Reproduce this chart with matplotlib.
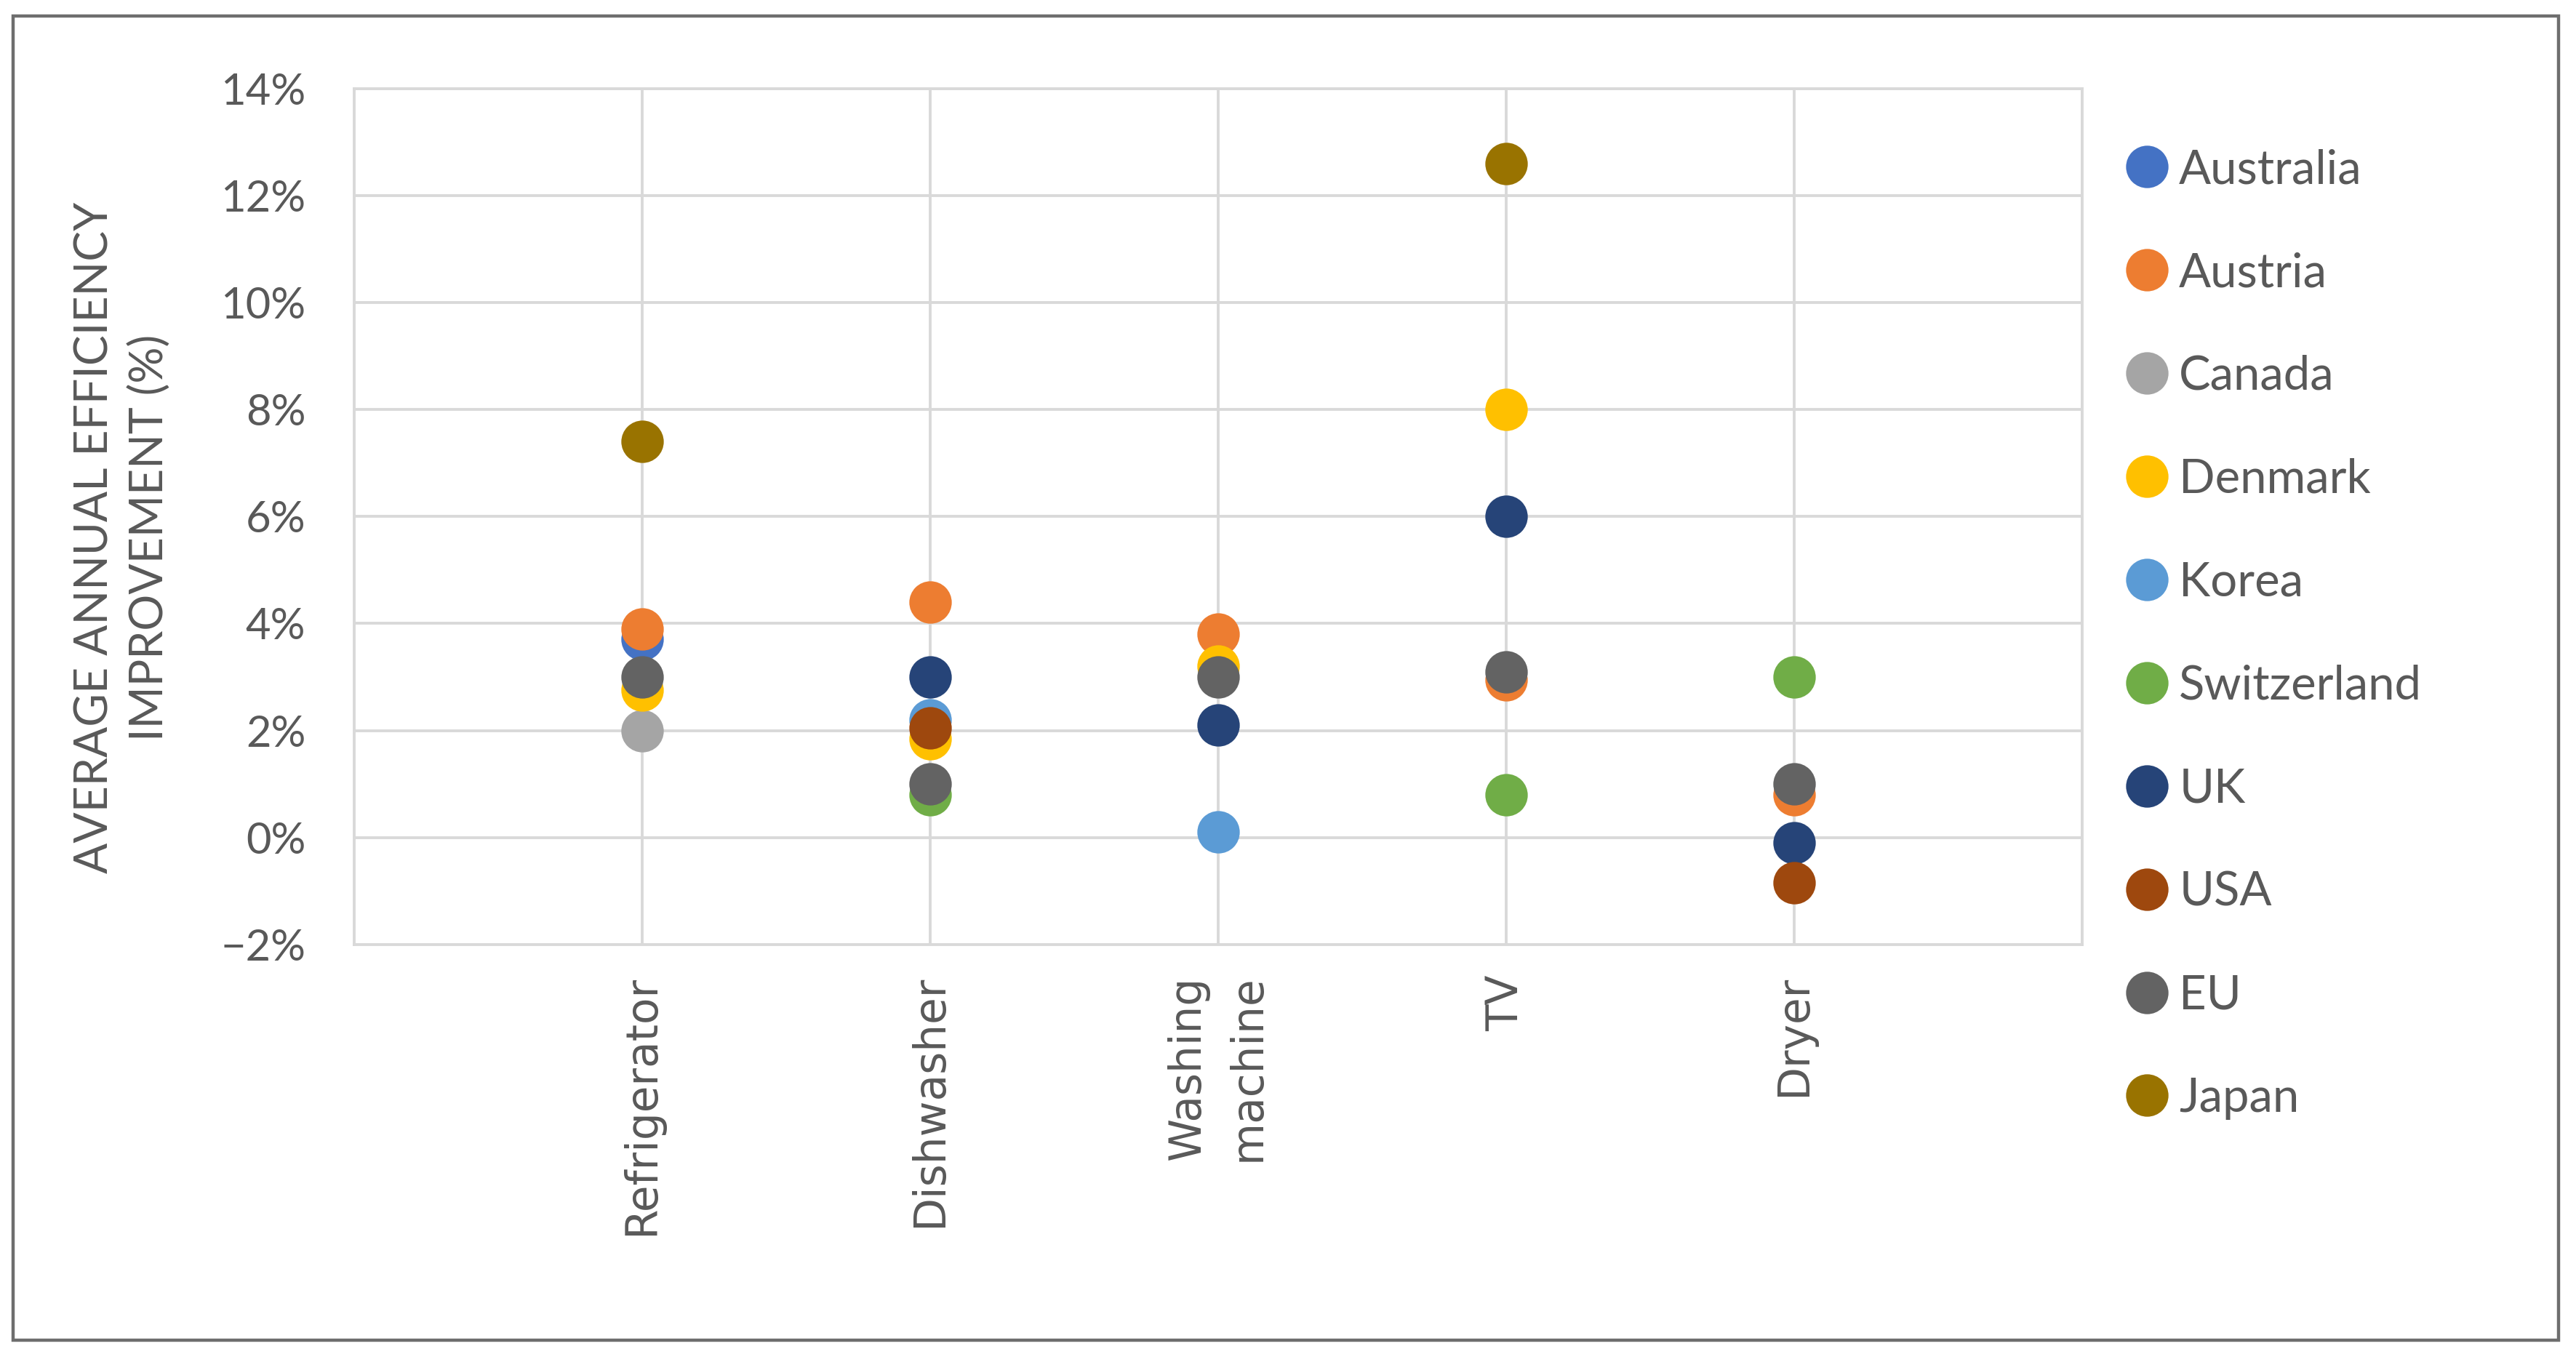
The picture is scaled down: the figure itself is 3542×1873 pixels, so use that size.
import numpy as np
import matplotlib
matplotlib.use('Agg')
import matplotlib.pyplot as plt
from matplotlib.patches import Rectangle
from matplotlib.ticker import FuncFormatter

nan = np.nan

# appliance categories along the x axis
appliances = ['Refrigerator', 'Dishwasher', 'Washing\nmachine', 'TV', 'Dryer']

# average annual efficiency improvement (%) per country, nan = not shown
countries = ['Australia', 'Austria', 'Canada', 'Denmark', 'Korea',
             'Switzerland', 'UK', 'USA', 'EU', 'Japan']
australia   = [3.7, nan, nan, nan, nan]
austria     = [3.9, 4.4, 3.8, 2.95, 0.8]
canada      = [2.0, nan, nan, nan, nan]
denmark     = [2.75, 1.85, 3.2, 8.0, nan]
korea       = [nan, 2.2, 0.1, nan, nan]
switzerland = [nan, 0.8, nan, 0.8, 3.0]
uk          = [nan, 3.0, 2.1, 6.0, -0.1]
usa         = [nan, 2.05, nan, nan, -0.85]
eu          = [3.0, 1.0, 3.0, 3.1, 1.0]
japan       = [7.4, nan, nan, 12.6, nan]

series = [australia, austria, canada, denmark, korea,
          switzerland, uk, usa, eu, japan]
colors = ['#4472C4', '#ED7D31', '#A5A5A5', '#FFC000', '#5B9BD5',
          '#70AD47', '#264478', '#9E480E', '#636363', '#997300']

text_color = '#595959'
grid_color = '#D9D9D9'

fig = plt.figure(figsize=(17.71, 9.365), dpi=200)
ax = fig.add_axes([0.1375, 0.3065, 0.8083 - 0.1375, 0.9351 - 0.3065])

x = np.arange(1, len(appliances) + 1)
for name, vals, c in zip(countries, series, colors):
    ax.plot(x, vals, linestyle='none', marker='o', markersize=20,
            markerfacecolor=c, markeredgecolor=c, label=name, zorder=3)

# axes limits and ticks
ax.set_xlim(0, len(appliances) + 1)
ax.set_ylim(-2, 14)
ax.set_xticks(np.arange(0, len(appliances) + 2))
ax.set_xticklabels([''] + appliances + [''], rotation=90,
                   fontfamily='DejaVu Sans', fontsize=21.5, color=text_color,
                   linespacing=1.5)
ax.set_yticks(np.arange(-2, 15, 2))
ax.yaxis.set_major_formatter(FuncFormatter(
    lambda v, p: ('\u2212' if v < 0 else '') + '%d%%' % abs(v)))
for lab in ax.get_yticklabels():
    lab.set_fontfamily('Lato')
    lab.set_fontsize(21.5)
    lab.set_color(text_color)
ax.tick_params(axis='both', length=0)
ax.tick_params(axis='y', pad=24)
ax.tick_params(axis='x', pad=15)

ax.grid(True, color=grid_color, linewidth=1.4, zorder=0)
ax.set_axisbelow(True)
for sp in ax.spines.values():
    sp.set_color(grid_color)
    sp.set_linewidth(1.4)

# y axis title
fig.text(0.0475, 0.605, 'AVERAGE ANNUAL EFFICIENCY\nIMPROVEMENT (%)',
         rotation=90, ha='center', va='center', multialignment='center',
         fontfamily='Lato', fontsize=22.5, color=text_color, linespacing=1.35)

# legend on the right
leg = fig.legend(loc='upper left', bbox_to_anchor=(0.8247, 0.891),
                 frameon=False, prop={'family': 'Lato', 'size': 23.5},
                 handlelength=0.95, handletextpad=0.2, labelspacing=1.27,
                 borderpad=0, borderaxespad=0, markerscale=1.0)
for t in leg.get_texts():
    t.set_color(text_color)

# outer chart border
fig.patches.append(Rectangle((18 / 3542, 1 - 1843 / 1873),
                             (3518 - 18) / 3542, (1843 - 22) / 1873,
                             transform=fig.transFigure, fill=False,
                             edgecolor='#6E6E6E', linewidth=1.6))

fig.savefig('out.png', dpi=200, facecolor='white')
